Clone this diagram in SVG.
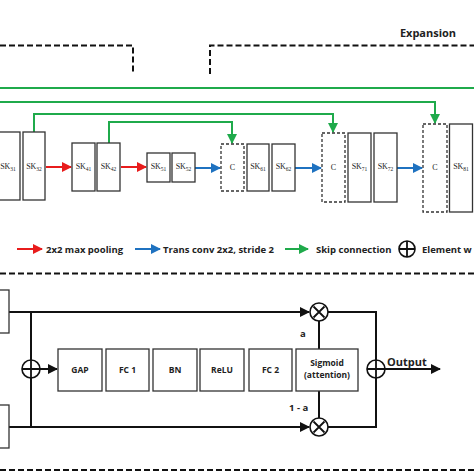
<svg xmlns="http://www.w3.org/2000/svg" width="474" height="474" viewBox="0 0 474 474">
<defs>
<marker id="ag" markerWidth="10" markerHeight="10" refX="9" refY="5" orient="auto" markerUnits="userSpaceOnUse"><path d="M0,0 L10,5 L0,10 Z" fill="#1faa4b"/></marker>
<marker id="ar" markerWidth="10" markerHeight="10" refX="9" refY="5" orient="auto" markerUnits="userSpaceOnUse"><path d="M0,0 L10,5 L0,10 Z" fill="#e81c1c"/></marker>
<marker id="ab" markerWidth="10" markerHeight="10" refX="9" refY="5" orient="auto" markerUnits="userSpaceOnUse"><path d="M0,0 L10,5 L0,10 Z" fill="#1f72c0"/></marker>
<marker id="ak" markerWidth="10" markerHeight="10" refX="9" refY="5" orient="auto" markerUnits="userSpaceOnUse"><path d="M0,0 L10,5 L0,10 Z" fill="#111"/></marker>
</defs>
<style>
.box{fill:#fff;stroke:#333;stroke-width:1.3}
.cbox{fill:#fff;stroke:#333;stroke-width:1.3;stroke-dasharray:3,2}
.dash{fill:none;stroke:#111;stroke-width:2;stroke-dasharray:6,3}
.g{fill:none;stroke:#1faa4b;stroke-width:2}
.r{fill:none;stroke:#e81c1c;stroke-width:2}
.b{fill:none;stroke:#1f72c0;stroke-width:2}
.k{fill:none;stroke:#111;stroke-width:2}
.sk{font-family:"Liberation Serif",serif;font-size:8px;fill:#222;text-anchor:middle}
.sub{font-size:5.5px}
.t{font-family:"Open Sans","Liberation Sans",sans-serif;font-weight:bold;fill:#222}
.lbl{font-family:"Open Sans","Liberation Sans",sans-serif;font-weight:bold;font-size:8.5px;fill:#222;text-anchor:middle}
.circ{fill:#fff;stroke:#111;stroke-width:1.6}
</style>
<rect width="474" height="474" fill="#fff"/>
<path class="dash" d="M0,45.5 H133 V74"/>
<path class="dash" d="M210,74 V45.5 H474"/>
<text class="t" x="428" y="37" font-size="11" text-anchor="middle">Expansion</text>
<g id="connectors">
<path class="g" d="M0,88 H474"/>
<path class="g" d="M0,102 H435 V123" marker-end="url(#ag)"/>
<path class="g" d="M34,132 V114 H333 V132" marker-end="url(#ag)"/>
<path class="g" d="M109,143 V122 H232 V143" marker-end="url(#ag)"/>
<path class="r" d="M46,167 H71" marker-end="url(#ar)"/>
<path class="r" d="M121,167 H146" marker-end="url(#ar)"/>
<path class="b" d="M195,168 H220" marker-end="url(#ab)"/>
<path class="b" d="M295,168 H321" marker-end="url(#ab)"/>
<path class="b" d="M397,168 H422" marker-end="url(#ab)"/>
<path class="k" d="M9,312 H309" marker-end="url(#ak)"/>
<path class="k" d="M9,427 H309" marker-end="url(#ak)"/>
<path class="k" d="M31,312 V427"/>
<path class="k" d="M40,369 H57" marker-end="url(#ak)"/>
<path class="k" d="M319,349 V321"/>
<path class="k" d="M319,391 V418"/>
<path class="k" d="M328,312 H376 V427 H328"/>
<path class="k" d="M385,369 H440" marker-end="url(#ak)"/>
</g>
<g id="sk31"><rect class="box" x="-4" y="132" width="24" height="68"/><text class="sk" x="8" y="169">SK<tspan class="sub" dy="1.5">31</tspan></text></g>
<g id="sk32"><rect class="box" x="23" y="132" width="22" height="68"/><text class="sk" x="34" y="169">SK<tspan class="sub" dy="1.5">32</tspan></text></g>
<g id="sk41"><rect class="box" x="72" y="143" width="23" height="48"/><text class="sk" x="83.5" y="169">SK<tspan class="sub" dy="1.5">41</tspan></text></g>
<g id="sk42"><rect class="box" x="97" y="143" width="23" height="48"/><text class="sk" x="108.5" y="169">SK<tspan class="sub" dy="1.5">42</tspan></text></g>
<g id="sk51"><rect class="box" x="147" y="153" width="23" height="29"/><text class="sk" x="158.5" y="169">SK<tspan class="sub" dy="1.5">51</tspan></text></g>
<g id="sk52"><rect class="box" x="172" y="153" width="23" height="29"/><text class="sk" x="183.5" y="169">SK<tspan class="sub" dy="1.5">52</tspan></text></g>
<g id="c1"><rect class="cbox" x="221" y="144" width="23" height="47"/><text class="sk" x="232.5" y="170">C</text></g>
<g id="sk61"><rect class="box" x="247" y="144" width="22" height="47"/><text class="sk" x="258" y="169">SK<tspan class="sub" dy="1.5">61</tspan></text></g>
<g id="sk62"><rect class="box" x="272" y="144" width="23" height="47"/><text class="sk" x="283.5" y="169">SK<tspan class="sub" dy="1.5">62</tspan></text></g>
<g id="c2"><rect class="cbox" x="322" y="133" width="23" height="69"/><text class="sk" x="333.5" y="170">C</text></g>
<g id="sk71"><rect class="box" x="348" y="133" width="23" height="69"/><text class="sk" x="359.5" y="169">SK<tspan class="sub" dy="1.5">71</tspan></text></g>
<g id="sk72"><rect class="box" x="374" y="133" width="23" height="69"/><text class="sk" x="385.5" y="169">SK<tspan class="sub" dy="1.5">72</tspan></text></g>
<g id="c3"><rect class="cbox" x="423" y="124" width="24" height="88"/><text class="sk" x="435" y="170">C</text></g>
<g id="sk81"><rect class="box" x="449.5" y="124" width="23" height="88" stroke-width="1.6"/><text class="sk" x="461" y="169">SK<tspan class="sub" dy="1.5">81</tspan></text></g>
<g id="legend">
<path class="r" d="M17,249 H42" marker-end="url(#ar)"/>
<text class="t" x="46" y="252.5" font-size="9.5">2x2 max pooling</text>
<path class="b" d="M135,249 H160" marker-end="url(#ab)"/>
<text class="t" x="163" y="252.5" font-size="9.5">Trans conv 2x2, stride 2</text>
<path class="g" d="M285,249 H308" marker-end="url(#ag)"/>
<text class="t" x="316" y="252.5" font-size="9.5">Skip connection</text>
<circle class="circ" cx="407" cy="249" r="8"/>
<path d="M407,241 V257 M399,249 H415" stroke="#111" stroke-width="1.8"/>
<text class="t" x="422" y="252.5" font-size="9.5">Element w</text>
</g>
<path class="dash" d="M0,273.5 H474"/>
<g id="in1"><rect class="box" x="-4" y="290" width="13" height="43"/></g>
<g id="in2"><rect class="box" x="-4" y="405" width="13" height="43"/></g>
<g id="add1"><circle class="circ" cx="31" cy="369" r="9"/><path d="M31,360 V378 M22,369 H40" stroke="#111" stroke-width="1.8"/></g>
<g id="gap"><rect class="box" x="58" y="349" width="44" height="42"/><text class="lbl" x="80" y="373">GAP</text></g>
<g id="fc1"><rect class="box" x="106" y="349" width="43" height="42"/><text class="lbl" x="127.5" y="373">FC 1</text></g>
<g id="bn"><rect class="box" x="153" y="349" width="44" height="42"/><text class="lbl" x="175" y="373">BN</text></g>
<g id="relu"><rect class="box" x="200" y="349" width="44" height="42"/><text class="lbl" x="222" y="373">ReLU</text></g>
<g id="fc2"><rect class="box" x="249" y="349" width="43" height="42"/><text class="lbl" x="270.5" y="373">FC 2</text></g>
<g id="sigmoid"><rect class="box" x="296" y="349" width="62" height="42"/><text class="lbl" x="327" y="366">Sigmoid</text><text class="lbl" x="327" y="378">(attention)</text></g>
<g id="mul1"><circle class="circ" cx="319" cy="312" r="9"/><path d="M313.5,306.5 L324.5,317.5 M324.5,306.5 L313.5,317.5" stroke="#111" stroke-width="1.8"/></g>
<g id="mul2"><circle class="circ" cx="319" cy="427" r="9"/><path d="M313.5,421.5 L324.5,432.5 M324.5,421.5 L313.5,432.5" stroke="#111" stroke-width="1.8"/></g>
<g id="add2"><circle class="circ" cx="376" cy="369" r="9"/><path d="M376,360 V378 M367,369 H385" stroke="#111" stroke-width="1.8"/></g>
<text class="t" x="300" y="337" font-size="9.5">a</text>
<text class="t" x="289" y="411" font-size="9.5">1 - a</text>
<text class="t" x="387" y="366" font-size="11">Output</text>
<path class="dash" d="M0,470 H474"/>
</svg>
